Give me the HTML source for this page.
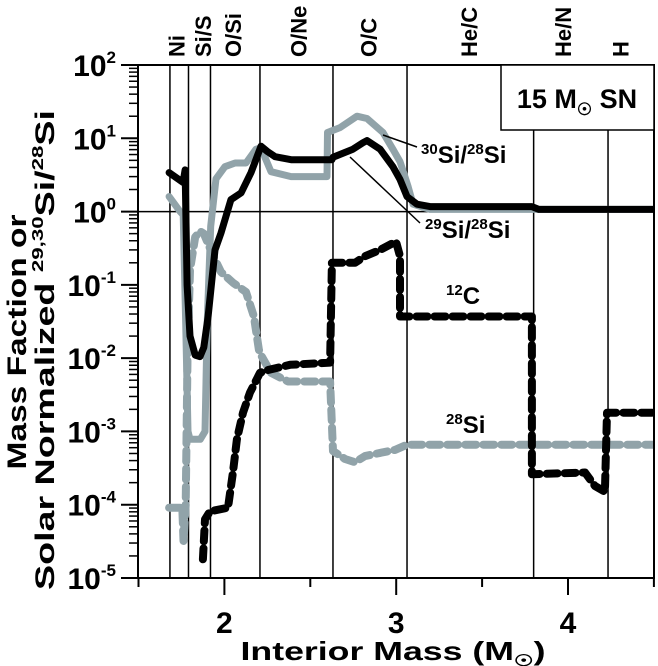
<!DOCTYPE html>
<html><head><meta charset="utf-8"><style>
html,body{margin:0;padding:0;background:#fff;}
svg{display:block;font-family:"Liberation Sans",Arial,sans-serif;font-weight:bold;}
</style></head><body>
<svg id="chart" width="658" height="666" viewBox="0 0 658 666" xmlns="http://www.w3.org/2000/svg">
<defs><clipPath id="clip"><rect x="138" y="65" width="516" height="513"/></clipPath></defs>
<g id="grid"></g>
<g id="series" clip-path="url(#clip)"></g>
<g id="axes"></g>
<g id="labels">
  <text transform="translate(26,342) rotate(-90)" text-anchor="middle" font-size="27" textLength="255" lengthAdjust="spacingAndGlyphs">Mass Faction or</text>
  <text transform="translate(54,350) rotate(-90)" text-anchor="middle" font-size="27" textLength="480" lengthAdjust="spacingAndGlyphs">Solar Normalized <tspan font-size="16" dy="-11">29,30</tspan><tspan dy="11">Si/</tspan><tspan font-size="16" dy="-11">28</tspan><tspan dy="11">Si</tspan></text>
  <text x="393" y="660" text-anchor="middle" font-size="26" textLength="305" lengthAdjust="spacingAndGlyphs">Interior Mass (M<tspan font-size="16" dy="6">☉</tspan><tspan dy="-6">)</tspan></text>
  <g>
    <rect x="501" y="65" width="153" height="65" fill="#fff" stroke="#000" stroke-width="1.5"/>
    <text x="577" y="108" text-anchor="middle" font-size="27">15 M<tspan font-size="17" dy="7">☉</tspan><tspan dy="-7"> SN</tspan></text>
  </g>
  <line x1="383" y1="135" x2="417" y2="147" stroke="#000" stroke-width="1.5"/>
  <text x="421" y="163" font-size="24"><tspan font-size="15" dy="-9">30</tspan><tspan dy="9">Si/</tspan><tspan font-size="15" dy="-9">28</tspan><tspan dy="9">Si</tspan></text>
  <line x1="350" y1="157" x2="420" y2="223" stroke="#000" stroke-width="1.5"/>
  <text x="425" y="238" font-size="24"><tspan font-size="15" dy="-9">29</tspan><tspan dy="9">Si/</tspan><tspan font-size="15" dy="-9">28</tspan><tspan dy="9">Si</tspan></text>
  <text x="446" y="304" font-size="24"><tspan font-size="15" dy="-9">12</tspan><tspan dy="9">C</tspan></text>
  <text x="446" y="433" font-size="24"><tspan font-size="15" dy="-9">28</tspan><tspan dy="9">Si</tspan></text>
</g>
</svg>
<script>
const xTicksMajor = [2, 3, 4];
const xTicksMinor = [1.5, 2.5, 3.5, 4.5];
const yDecades = [2, 1, 0, -1, -2, -3, -4, -5];
const zoneBounds = [1.683, 1.791, 1.919, 2.207, 2.632, 3.063, 3.80, 4.233];
const zoneNames = ["Ni", "Si/S", "O/Si", "O/Ne", "O/C", "He/C", "He/N", "H"];
const zoneLabelMass = [1.72, 1.875, 2.05, 2.43, 2.84, 3.425, 3.97, 4.305];

const si29Mass = [1.678,1.759,1.771,1.783,1.80,1.83,1.858,1.88,1.905,1.945,1.98,2.038,2.097,2.155,2.213,2.25,2.295,2.388,2.626,2.632,2.748,2.807,2.83,2.906,2.981,3.022,3.063,3.121,3.197,3.79,3.83,4.5];
const si29Vals = [3.4,2.5,3.7,0.1,0.02,0.011,0.0105,0.014,0.037,0.3,0.51,1.45,1.8,3.4,7.8,6.6,5.6,5.1,5.1,5.5,7.1,8.7,9.3,7.1,4.1,2.75,1.6,1.26,1.17,1.17,1.07,1.07];

const si30Mass = [1.678,1.742,1.76,1.775,1.788,1.80,1.86,1.887,1.9,1.92,1.951,2.003,2.062,2.126,2.184,2.213,2.271,2.388,2.597,2.60,2.673,2.772,2.83,2.923,2.981,3.022,3.069,3.098,3.197,4.5];
const si30Vals = [1.6,1.0,0.9,0.03,0.001,0.00078,0.00078,0.001,0.03,0.63,2.8,4.1,4.6,4.6,7.1,7.4,3.5,3.0,3.0,12,14,20,18.6,12,7.1,4.8,2.2,1.26,1.07,1.07];

const si28Mass = [1.678,1.755,1.762,1.775,1.785,1.80,1.83,1.858,1.88,1.934,1.98,2.05,2.126,2.172,2.201,2.213,2.271,2.37,2.615,2.632,2.702,2.76,2.818,2.906,2.993,3.063,4.5];
const si28Vals = [9.1e-5,9.1e-5,3.2e-5,1e-4,0.01,0.16,0.45,0.54,0.5,0.25,0.15,0.107,0.08,0.037,0.013,0.011,0.0063,0.0048,0.0048,5.4e-4,4.2e-4,3.8e-4,4.6e-4,5.1e-4,5.6e-4,6.6e-4,6.6e-4];

const c12Mass = [1.875,1.887,1.916,2.021,2.05,2.073,2.108,2.149,2.207,2.254,2.382,2.615,2.626,2.76,2.818,2.906,2.999,3.022,3.022,3.79,3.79,4.099,4.157,4.215,4.227,4.5];
const c12Vals = [1.8e-5,6.3e-5,8.1e-5,9.1e-5,2.8e-4,7.8e-4,1.8e-3,3.4e-3,6.3e-3,6.9e-3,8.1e-3,8.7e-3,0.2,0.2,0.245,0.3,0.39,0.245,0.037,0.037,2.6e-4,2.75e-4,1.8e-4,1.5e-4,1.8e-3,1.8e-3];

const PL=138, PR=654, PT=65, PB=578;
const xScale = m => 138.5 + (m - 1.5) * 171.8;
const yScale = v => PT + (2 - Math.log10(v)) * (PB - PT) / 7;
const NS = "http://www.w3.org/2000/svg";
function mk(tag, attrs, parent){ const e=document.createElementNS(NS,tag); for(const k in attrs) e.setAttribute(k,attrs[k]); parent.appendChild(e); return e; }

const grid=document.getElementById('grid'), axes=document.getElementById('axes'), series=document.getElementById('series');

zoneBounds.forEach((m,i)=>{
  const l=mk('line',{x1:xScale(m),x2:xScale(m),y1:PT,y2:PB,stroke:'#000','stroke-width':1.5},grid);
  
  
});
zoneNames.forEach((n,i)=>{
  const x=xScale(zoneLabelMass[i])+8;
  const t=mk('text',{transform:`translate(${x},57) rotate(-90)`,'font-size':22,'text-anchor':'start'},axes);
  t.textContent=n;
  
  
});
const one=mk('line',{x1:PL,x2:PR,y1:yScale(1),y2:yScale(1),stroke:'#000','stroke-width':1.5},grid);



function path(ms,vs){ return ms.map((m,i)=>(i?'L':'M')+xScale(m).toFixed(1)+','+yScale(vs[i]).toFixed(1)).join(''); }
const s30=mk('path',{d:path(si30Mass,si30Vals),fill:'none',stroke:'#91a3a9','stroke-width':7,'stroke-linejoin':'round','stroke-linecap':'round'},series);


const s28=mk('path',{d:path(si28Mass,si28Vals),fill:'none',stroke:'#91a3a9','stroke-width':8,'stroke-dasharray':'11 7','stroke-linejoin':'round','stroke-linecap':'round'},series);


const s12=mk('path',{d:path(c12Mass,c12Vals),fill:'none',stroke:'#000','stroke-width':8,'stroke-dasharray':'11 7','stroke-linejoin':'round','stroke-linecap':'round'},series);


const s29=mk('path',{d:path(si29Mass,si29Vals),fill:'none',stroke:'#000','stroke-width':7,'stroke-linejoin':'round','stroke-linecap':'round'},series);



const fr=mk('rect',{x:PL,y:PT,width:PR-PL,height:PB-PT,fill:'none',stroke:'#000','stroke-width':2},axes);



yDecades.forEach(d=>{
  const y=yScale(Math.pow(10,d));
  mk('line',{x1:PL-17,x2:PL,y1:y,y2:y,stroke:'#000','stroke-width':2},axes);
  const t=mk('text',{x:116,y:y+11,'text-anchor':'end','font-size':30},axes);
  
  
  t.innerHTML='10<tspan font-size="17" dy="-13">'+d+'</tspan>';
  if(d>-5){ for(let k=2;k<=9;k++){ const yy=yScale(k*Math.pow(10,d-1)); mk('line',{x1:PL-9,x2:PL,y1:yy,y2:yy,stroke:'#000','stroke-width':1.5},axes);} }
});
xTicksMajor.forEach(m=>{
  const x=xScale(m);
  mk('line',{x1:x,x2:x,y1:PB,y2:PB+17,stroke:'#000','stroke-width':2},axes);
  const t=mk('text',{x:x,y:633,'text-anchor':'middle','font-size':30},axes);
  t.textContent=m;
  
  
});
xTicksMinor.forEach(m=>{
  const x=xScale(m);
  mk('line',{x1:x,x2:x,y1:PB,y2:PB+9,stroke:'#000','stroke-width':2},axes);
});
</script>
</body></html>
